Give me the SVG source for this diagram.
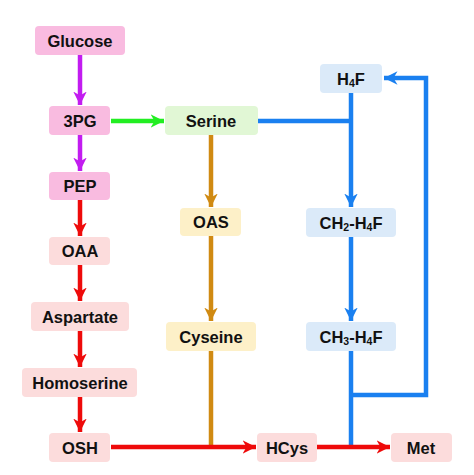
<svg xmlns="http://www.w3.org/2000/svg" width="474" height="475" viewBox="0 0 474 475">
<style>
text{font-family:"Liberation Sans",Arial,sans-serif;font-weight:bold;font-size:16.5px;fill:#111;text-anchor:middle;dominant-baseline:central}
.sub{font-size:10.5px}
.pk{fill:#f9bbe0}.lp{fill:#fcdcdc}.gr{fill:#e1f7d5}.go{fill:#fdf0c8}.bl{fill:#dbeaf9}
.ln{fill:none;stroke-width:4.5}
</style>
<defs>
<marker id="ap" viewBox="0 0 10 10" refX="10" refY="5" markerWidth="3" markerHeight="3" orient="auto" markerUnits="strokeWidth"><path d="M0,0L10,5L0,10L3,5z" fill="#c21cf0"/></marker>
<marker id="ar" viewBox="0 0 10 10" refX="10" refY="5" markerWidth="3" markerHeight="3" orient="auto" markerUnits="strokeWidth"><path d="M0,0L10,5L0,10L3,5z" fill="#ee0a0a"/></marker>
<marker id="ag" viewBox="0 0 10 10" refX="10" refY="5" markerWidth="3" markerHeight="3" orient="auto" markerUnits="strokeWidth"><path d="M0,0L10,5L0,10L3,5z" fill="#22ee22"/></marker>
<marker id="ao" viewBox="0 0 10 10" refX="10" refY="5" markerWidth="3" markerHeight="3" orient="auto" markerUnits="strokeWidth"><path d="M0,0L10,5L0,10L3,5z" fill="#d08a12"/></marker>
<marker id="ab" viewBox="0 0 10 10" refX="10" refY="5" markerWidth="3" markerHeight="3" orient="auto" markerUnits="strokeWidth"><path d="M0,0L10,5L0,10L3,5z" fill="#1a80f0"/></marker>
</defs>
<rect width="474" height="475" fill="#fff"/>
<g id="connectors">
<path class="ln" stroke="#c21cf0" d="M80,55V105" marker-end="url(#ap)"/>
<path class="ln" stroke="#c21cf0" d="M80,135V171" marker-end="url(#ap)"/>
<path class="ln" stroke="#22ee22" d="M111,121H164" marker-end="url(#ag)"/>
<path class="ln" stroke="#ee0a0a" d="M80,200V236" marker-end="url(#ar)"/>
<path class="ln" stroke="#ee0a0a" d="M80,265V301" marker-end="url(#ar)"/>
<path class="ln" stroke="#ee0a0a" d="M80,331V367" marker-end="url(#ar)"/>
<path class="ln" stroke="#ee0a0a" d="M80,397V432" marker-end="url(#ar)"/>
<path class="ln" stroke="#d08a12" d="M211,135V207" marker-end="url(#ao)"/>
<path class="ln" stroke="#d08a12" d="M211,236V321" marker-end="url(#ao)"/>
<path class="ln" stroke="#d08a12" d="M211,351V447"/>
<path class="ln" stroke="#1a80f0" d="M258,121H351"/>
<path class="ln" stroke="#1a80f0" d="M351,93V207" marker-end="url(#ab)"/>
<path class="ln" stroke="#1a80f0" d="M351,237V321" marker-end="url(#ab)"/>
<path class="ln" stroke="#1a80f0" d="M351,351V447"/>
<path class="ln" stroke="#1a80f0" d="M351,395H426V78H384" marker-end="url(#ab)"/>
<path class="ln" stroke="#ee0a0a" d="M111,447H256" marker-end="url(#ar)"/>
<path class="ln" stroke="#ee0a0a" d="M317,447H390" marker-end="url(#ar)"/>
</g>
<g id="glucose"><rect class="pk" x="35" y="26" width="90" height="29" rx="4"/><text x="80" y="41">Glucose</text></g>
<g id="g3pg"><rect class="pk" x="49" y="106" width="61" height="29" rx="4"/><text x="80" y="121">3PG</text></g>
<g id="pep"><rect class="pk" x="49" y="172" width="61" height="28" rx="4"/><text x="80" y="186">PEP</text></g>
<g id="oaa"><rect class="lp" x="49" y="237" width="61" height="28" rx="4"/><text x="80" y="251">OAA</text></g>
<g id="aspartate"><rect class="lp" x="31" y="302" width="98" height="29" rx="4"/><text x="80" y="317">Aspartate</text></g>
<g id="homoserine"><rect class="lp" x="22" y="368" width="115" height="29" rx="4"/><text x="80" y="383">Homoserine</text></g>
<g id="osh"><rect class="lp" x="49" y="433" width="61" height="29" rx="4"/><text x="80" y="448">OSH</text></g>
<g id="serine"><rect class="gr" x="165" y="106" width="93" height="29" rx="4"/><text x="211" y="121">Serine</text></g>
<g id="oas"><rect class="go" x="180" y="208" width="61" height="28" rx="4"/><text x="211" y="222">OAS</text></g>
<g id="cyseine"><rect class="go" x="166" y="322" width="90" height="29" rx="4"/><text x="211" y="337">Cyseine</text></g>
<g id="hcys"><rect class="lp" x="257" y="433" width="60" height="29" rx="4"/><text x="287" y="448">HCys</text></g>
<g id="met"><rect class="lp" x="391" y="433" width="61" height="29" rx="4"/><text x="421" y="448">Met</text></g>
<g id="h4f"><rect class="bl" x="320" y="64" width="62" height="29" rx="4"/><text x="351" y="79">H<tspan class="sub" dy="4">4</tspan><tspan dy="-4">F</tspan></text></g>
<g id="ch2h4f"><rect class="bl" x="306" y="208" width="90" height="29" rx="4"/><text x="351" y="223">CH<tspan class="sub" dy="4">2</tspan><tspan dy="-4">-H</tspan><tspan class="sub" dy="4">4</tspan><tspan dy="-4">F</tspan></text></g>
<g id="ch3h4f"><rect class="bl" x="306" y="322" width="90" height="29" rx="4"/><text x="351" y="337">CH<tspan class="sub" dy="4">3</tspan><tspan dy="-4">-H</tspan><tspan class="sub" dy="4">4</tspan><tspan dy="-4">F</tspan></text></g>
</svg>
